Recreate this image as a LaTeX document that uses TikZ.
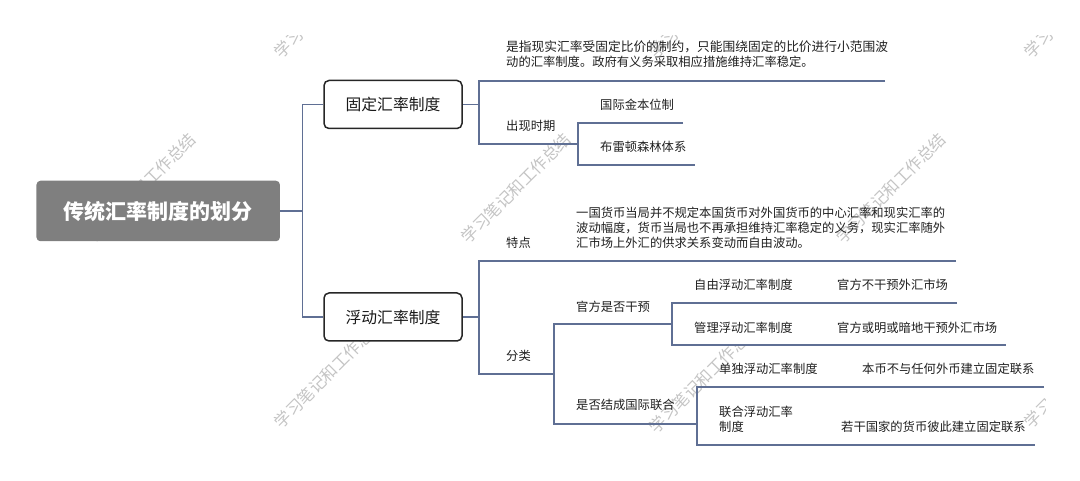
\documentclass[tikz,border=0pt]{standalone}
\usepackage{fontspec}
\setmainfont{Noto Sans CJK SC}
\definecolor{linec}{HTML}{5F6F94}
\definecolor{wm}{HTML}{C4C4C4}
\definecolor{rootc}{HTML}{7F7F7F}
\definecolor{boxline}{HTML}{262626}
\newcommand{\wmtext}{学习笔记和工作总结}
\tikzset{
  x=1pt,y=-1pt,
  wmark/.style={anchor=west,rotate=45,inner sep=0pt,text=wm,font=\fontsize{16.3}{18}\selectfont},
  rootbox/.style={fill=rootc,draw=none,rounded corners=4pt,text=white,font=\fontsize{21}{24}\selectfont\bfseries,minimum width=243.5pt,minimum height=60.5pt,inner sep=0pt},
  topicbox/.style={fill=white,draw=boxline,line width=1.5pt,rounded corners=5pt,font=\fontsize{15.8}{18}\selectfont,text=black!90,minimum width=138pt,minimum height=48pt,inner sep=0pt},
  lab/.style={anchor=west,inner sep=0pt,text=black!88,font=\fontsize{12.3}{15}\selectfont,align=left},
  link/.style={draw=linec,line width=1.7pt,line join=miter},
}
\begin{document}
\begin{tikzpicture}
\useasboundingbox (0,0) rectangle (1080,481);
% watermarks
\begin{scope}
\clip (0,36) rectangle (1080,481);
\node[wmark] (wa) at (277,55) {\wmtext};
\end{scope}
\begin{scope}
\clip (0,36) rectangle (1080,481);
\clip (640,0) rectangle (680,481);
\node[wmark] (wb) at (652,55) {\wmtext};
\end{scope}
\begin{scope}
\clip (1000,36) rectangle (1080,481);
\node[wmark] (wc) at (1027,55) {\wmtext};
\end{scope}
\node[wmark] (wd) at (89,240) {\wmtext};
\node[wmark] (we) at (464,240) {\wmtext};
\node[wmark] (wf) at (839,240) {\wmtext};
\node[wmark] (wg) at (277,425) {\wmtext};
\begin{scope}
\clip (600,346) rectangle (800,481);
\node[wmark] (wh) at (652,430) {\wmtext};
\end{scope}
\begin{scope}
\clip (1000,380) rectangle (1045,481);
\node[wmark] (wi) at (1027,425) {\wmtext};
\end{scope}

% nodes
\node[rootbox] (root) at (158.2,211) {传统汇率制度的划分};
\node[topicbox] (fix) at (393,104.5) {固定汇率制度};
\node[topicbox] (flo) at (393,317) {浮动汇率制度};

\node[lab] (fdesc) at (506,54.5) {{\fontsize{12.73}{15}\selectfont 是指现实汇率受固定比价的制约，只能围绕固定的比价进行小范围波}\\动的汇率制度。政府有义务采取相应措施维持汇率稳定。};
\node[lab] (fper) at (506,126) {出现时期};
\node[lab] (gold) at (600,105) {国际金本位制};
\node[lab] (bret) at (600,147) {布雷顿森林体系};

\node[lab] (ftr) at (506,243) {特点};
\node[lab] (trd) at (576,228) {一国货币当局并不规定本国货币对外国货币的中心汇率和现实汇率的\\波动幅度，货币当局也不再承担维持汇率稳定的义务，现实汇率随外\\汇市场上外汇的供求关系变动而自由波动。};
\node[lab] (cls) at (506,356) {分类};
\node[lab] (gov) at (576,306.5) {官方是否干预};
\node[lab] (un) at (576,405) {是否结成国际联合};
\node[lab] (free) at (694,285) {自由浮动汇率制度};
\node[lab] (freed) at (837,285) {官方不干预外汇市场};
\node[lab] (man) at (694,327.5) {管理浮动汇率制度};
\node[lab] (mand) at (837,327.5) {官方或明或暗地干预外汇市场};
\node[lab] (sin) at (719,369) {单独浮动汇率制度};
\node[lab] (sind) at (862,369) {本币不与任何外币建立固定联系};
\node[lab] (joi) at (719,419.5) {联合浮动汇率\\制度};
\node[lab] (joid) at (841,427) {若干国家的货币彼此建立固定联系};

% connector free ends
\coordinate (e1) at (885,81);
\coordinate (e2) at (578,144.3);
\coordinate (e3) at (683,123);
\coordinate (e4) at (695,165);
\coordinate (e5) at (956,261);
\coordinate (e6) at (554,374);
\coordinate (e7) at (672,324.3);
\coordinate (e8) at (957,303);
\coordinate (e9) at (1006,345.3);
\coordinate (e10) at (697,423.7);
\coordinate (e11) at (1044,387.3);
\coordinate (e12) at (1035,445);

% connectors
\draw[link] (root.east) -- (302.5,211);
\draw[link] (fix.west) -| (302.5,317) -- (flo.west);
\draw[link] (fix.east) -- (479,104.5);
\draw[link] (e1) -- (479,81) |- (e2);
\draw[link] (e3) -- (578,123) |- (e4);
\draw[link] (flo.east) -- (479,317);
\draw[link] (e5) -- (479,261) |- (e6);
\draw[link] (e7) -- (554,324.3) |- (e10);
\draw[link] (e8) -- (672,303) |- (e9);
\draw[link] (e11) -- (697,387.3) |- (e12);
\end{tikzpicture}
\end{document}
